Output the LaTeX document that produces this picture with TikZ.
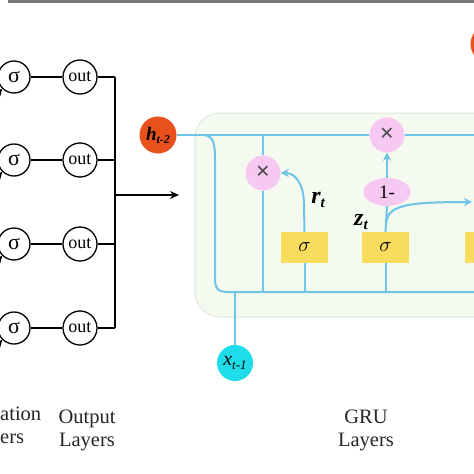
\documentclass[tikz,border=0pt]{standalone}
\usepackage{fontspec}
\setmainfont{Liberation Serif}
\usetikzlibrary{arrows.meta,shapes.geometric}
\definecolor{gline}{HTML}{6EC3E6}
\definecolor{pinkc}{HTML}{F6C8F2}
\definecolor{yel}{HTML}{F8DC5E}
\definecolor{orng}{HTML}{E8501C}
\definecolor{cyn}{HTML}{1FDCEB}
\definecolor{boxbg}{HTML}{F4FAEF}
\definecolor{boxbd}{HTML}{E1E6DE}
\definecolor{topbar}{HTML}{777777}
\begin{document}
\begin{tikzpicture}[x=1pt,y=-1pt,
  neuron/.style={circle,draw=black,line width=1.3pt,minimum size=32pt,inner sep=0pt,fill=white,font=\fontsize{22}{22}\selectfont},
  outn/.style={circle,draw=black,line width=1.3pt,minimum size=34pt,inner sep=0pt,fill=white,font=\fontsize{18}{18}\selectfont},
  wire/.style={line width=1.3pt,black},
  gwire/.style={line width=2pt,gline},
  garrow/.style={gwire,-{Stealth[length=8pt,width=8pt]}},
  mult/.style={circle,fill=pinkc,minimum size=35pt,inner sep=0pt,font=\fontsize{25}{25}\selectfont\bfseries,text=black!70},
  gate/.style={rectangle,fill=yel,minimum width=47pt,minimum height=31pt,inner sep=0pt,font=\fontsize{22}{22}\selectfont},
  lab/.style={font=\fontsize{20.5}{23}\selectfont,align=center,text=black!85},
  sym/.style={font=\fontsize{24}{24}\selectfont\bfseries\itshape}]
\clip (0,0) rectangle (474,474);
\fill[white] (0,0) rectangle (474,474);
\fill[topbar] (8,0) rectangle (474,2.5);

% left network
\foreach \i/\y in {1/77,2/160,3/244,4/328}{
  \node[neuron] (s\i) at (14,\y) {σ};
  \node[outn] (o\i) at (80,\y) {out};
  \coordinate (b\i) at (115,\y);
  \draw[wire] (s\i) -- (o\i);
  \draw[wire] (o\i) -- (b\i);
  \draw[line width=1.5pt,-{Stealth[length=7pt,width=7pt]}] ([shift={(-8,9)}]s\i.225) -- (s\i.225);
}
\draw[wire] (b1) -- (b4);
\coordinate (bm) at (115,195);
\coordinate (arr) at (179,195);
\draw[wire,-{Stealth[length=9pt,width=8pt]}] (bm) -- (arr);

% GRU block
\draw[fill=boxbg,draw=boxbd,line width=1pt,rounded corners=25pt] (195,113) rectangle (520,317);

\node[circle,fill=orng,minimum size=37pt,inner sep=0pt] (h) at (158,135) {\fontsize{19}{19}\selectfont\bfseries\itshape h\raisebox{-0.35ex}{\fontsize{12}{12}\selectfont t-2}};
\node[circle,fill=orng,minimum size=37pt,inner sep=0pt] (hr) at (489,44) {};

\node[mult] (m2) at (387,135) {×};
\node[mult] (m1) at (263,173) {×};
\node[ellipse,fill=pinkc,minimum width=47pt,minimum height=28pt,inner sep=0pt,font=\fontsize{19}{19}\selectfont] (one) at (387,192) {1-};
\node[gate] (g1) at (304.5,247.5) {$\sigma$};
\node[gate] (g2) at (385.5,247.5) {$\sigma$};
\node[gate,minimum width=52pt] (g3) at (491,247.5) {};

\coordinate (tre) at (480,135);
\coordinate (j1) at (263,135);
\coordinate (j2) at (263,292);
\coordinate (c1) at (204,135);
\coordinate (c4) at (228,292);
\coordinate (br) at (480,292);
\coordinate (xj) at (235,292);

\draw[gwire] (h) -- (m2);
\draw[gwire] (m2) -- (tre);
\draw[gwire] (j1) -- (m1);
\draw[gwire] (m1) -- (j2);
\draw[gwire] (c1) .. controls (214,136) and (215,145) .. (215,160) -- (215,278) .. controls (215,289) and (218,292) .. (c4) -- (br);
\draw[gwire] (g1.south) -- (g1.south |- br);
\draw[gwire] (g2.south) -- (g2.south |- br);

\node[circle,fill=cyn,minimum size=36pt,inner sep=0pt] (x) at (235,363) {\fontsize{20}{20}\selectfont\itshape x\raisebox{-0.35ex}{\fontsize{13}{13}\selectfont t-1}};
\draw[gwire] (x) -- (xj);

\draw[garrow] (g1.north) -- (304,205) .. controls (304,185) and (296,173) .. (m1.east);
\draw[gwire] (g2.north) -- (one.south);
\draw[garrow] (one.north) -- (m2.south);
\coordinate (zb) at (386,224);
\coordinate (zt) at (472,202);
\draw[garrow] (zb) .. controls (388,206) and (402,202) .. (zt);

\node[sym] (rt) at (318,200) {r\raisebox{-0.3ex}{\fontsize{15}{15}\selectfont t}};
\node[sym] (zlab) at (361,222) {z\raisebox{-0.3ex}{\fontsize{15}{15}\selectfont t}};

% labels
\node[lab,anchor=base west,inner sep=0pt] (la1) at (0,420) {ation};
\node[lab,anchor=base west,inner sep=0pt] (la2) at (0,443) {ers};
\node[lab] (lo) at (87,430) {Output\\Layers};
\node[lab] (lg) at (366,430) {GRU\\Layers};
\end{tikzpicture}
\end{document}
